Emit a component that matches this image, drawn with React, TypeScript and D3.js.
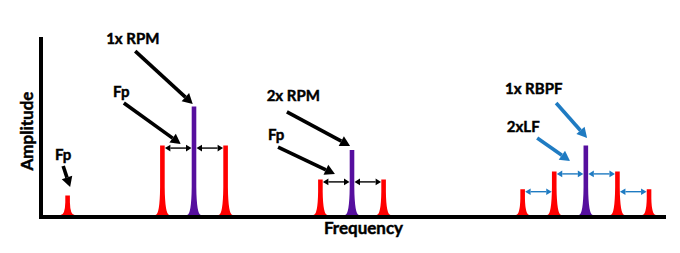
import React from "react";
import * as d3 from "d3";

// Peak data (frequency in arbitrary units, amplitude 0-100)
const frequencies = [5, 20, 25, 30, 45, 50, 55, 77, 82, 87, 92, 97];
const amplitudes = [11, 39, 61, 39, 20, 36.5, 20, 14.5, 24.5, 39, 24.5, 14.5];
const peakKinds = ["side", "side", "main", "side", "side", "main", "side", "side", "side", "main", "side", "side"];

// Spacing double-arrows: [fromPeakIndex, toPeakIndex, sidebandIndex, color]
const spacingPairs: [number, number, number, string][] = [
  [1, 2, 1, "black"], [2, 3, 3, "black"],
  [4, 5, 4, "black"], [5, 6, 6, "black"],
  [7, 8, 7, "blue"], [8, 9, 8, "blue"], [9, 10, 10, "blue"], [10, 11, 11, "blue"],
];

// Annotation labels: text, label position (freq, amp), arrow from (freq, amp) to (freq, amp), color
const labelTexts = ["1x RPM", "Fp", "Fp", "2x RPM", "Fp", "1x RBPF", "2xLF"];
const labelPos: [number, number][] = [[11.1, 96.1], [12.2, 66.3], [3.0, 30.9], [36.5, 64.0], [36.7, 42.1], [74.2, 68.0], [74.5, 46.6]];
const arrowFrom: [number, number][] = [[15.7, 92.1], [13.9, 62.9], [4.3, 27.5], [39.7, 57.9], [38.3, 38.2], [82.3, 62.9], [79.3, 43.3]];
const arrowTo: [number, number][] = [[24.8, 62.4], [22.9, 39.9], [5.4, 15.7], [49.7, 38.8], [47.3, 23.0], [87.2, 43.3], [84.5, 30.3]];
const arrowColor = ["black", "black", "black", "black", "black", "blue", "blue"];

const xTitle = "Frequency";
const yTitle = "Amplitude";

const W = 680;
const H = 253;
const COLORS: Record<string, string> = { black: "#000000", blue: "#1f7bc2", side: "#ff0000", main: "#560f9e" };
const FONT = "Lato, 'Open Sans', sans-serif";

const x = d3.scaleLinear().domain([0, 100]).range([36, 668]);
const y = d3.scaleLinear().domain([0, 100]).range([215, 37]);

function peakPath(f: number, a: number) {
  const cx = x(f);
  const top = y(a);
  const base = y(0);
  const hw = 2.3;
  const bw = 7;
  const fh = Math.min(28, (base - top) * 0.65);
  const p = d3.path();
  p.moveTo(cx - hw, top);
  p.lineTo(cx + hw, top);
  p.lineTo(cx + hw, base - fh);
  p.quadraticCurveTo(cx + hw + 0.3, base, cx + bw, base);
  p.lineTo(cx - bw, base);
  p.quadraticCurveTo(cx - hw - 0.3, base, cx - hw, base - fh);
  p.closePath();
  return p.toString();
}

function arrowHead(x1: number, y1: number, x2: number, y2: number, len: number, hw: number) {
  const dx = x2 - x1;
  const dy = y2 - y1;
  const L = Math.hypot(dx, dy);
  const ux = dx / L;
  const uy = dy / L;
  const bx = x2 - ux * len;
  const by = y2 - uy * len;
  const px = -uy;
  const py = ux;
  return {
    pts: `${x2},${y2} ${bx + px * hw},${by + py * hw} ${bx - px * hw},${by - py * hw}`,
    bx,
    by,
  };
}

const textStyle = {
  fontFamily: FONT,
  fontWeight: 700,
  fill: "#000",
  stroke: "#000",
  strokeWidth: 0.45,
} as const;

export default function App() {
  return (
    <div style={{ position: "fixed", left: 0, top: 0 }}>
      <svg width={W} height={H} style={{ display: "block", background: "#fff" }}>
        {/* peaks */}
        {frequencies.map((f, i) => (
          <path key={"p" + i} d={peakPath(f, amplitudes[i])} fill={COLORS[peakKinds[i]]} />
        ))}
        {/* axes */}
        <line x1={41} y1={37} x2={41} y2={219} stroke="#000" strokeWidth={4} />
        <line x1={39} y1={217} x2={666} y2={217} stroke="#000" strokeWidth={4} />
        {/* spacing arrows */}
        {spacingPairs.map(([a, b, s, c], i) => {
          const x1 = x(frequencies[a]) + 2.5;
          const x2 = x(frequencies[b]) - 2.5;
          const yy = y(amplitudes[s]) + 2.5;
          const col = COLORS[c];
          const h1 = arrowHead(x2, yy, x1, yy, 5.5, 3.3);
          const h2 = arrowHead(x1, yy, x2, yy, 5.5, 3.3);
          return (
            <g key={"s" + i}>
              <line x1={h1.bx} y1={yy} x2={h2.bx} y2={yy} stroke={col} strokeWidth={1.4} />
              <polygon points={h1.pts} fill={col} />
              <polygon points={h2.pts} fill={col} />
            </g>
          );
        })}
        {/* annotation arrows */}
        {labelTexts.map((t, i) => {
          const x1 = x(arrowFrom[i][0]);
          const y1 = y(arrowFrom[i][1]);
          const x2 = x(arrowTo[i][0]);
          const y2 = y(arrowTo[i][1]);
          const col = COLORS[arrowColor[i]];
          const h = arrowHead(x1, y1, x2, y2, 10, 5.5);
          return (
            <g key={"a" + i}>
              <line x1={x1} y1={y1} x2={h.bx} y2={h.by} stroke={col} strokeWidth={3.6} />
              <polygon points={h.pts} fill={col} />
              <text x={x(labelPos[i][0])} y={y(labelPos[i][1])} fontSize={15} {...textStyle}>
                {t}
              </text>
            </g>
          );
        })}
        {/* axis titles */}
        <text x={363.5} y={234} textAnchor="middle" fontSize={17} {...textStyle}>
          {xTitle}
        </text>
        <text transform="translate(33,131) rotate(-90)" textAnchor="middle" fontSize={17} {...textStyle}>
          {yTitle}
        </text>
      </svg>
    </div>
  );
}
